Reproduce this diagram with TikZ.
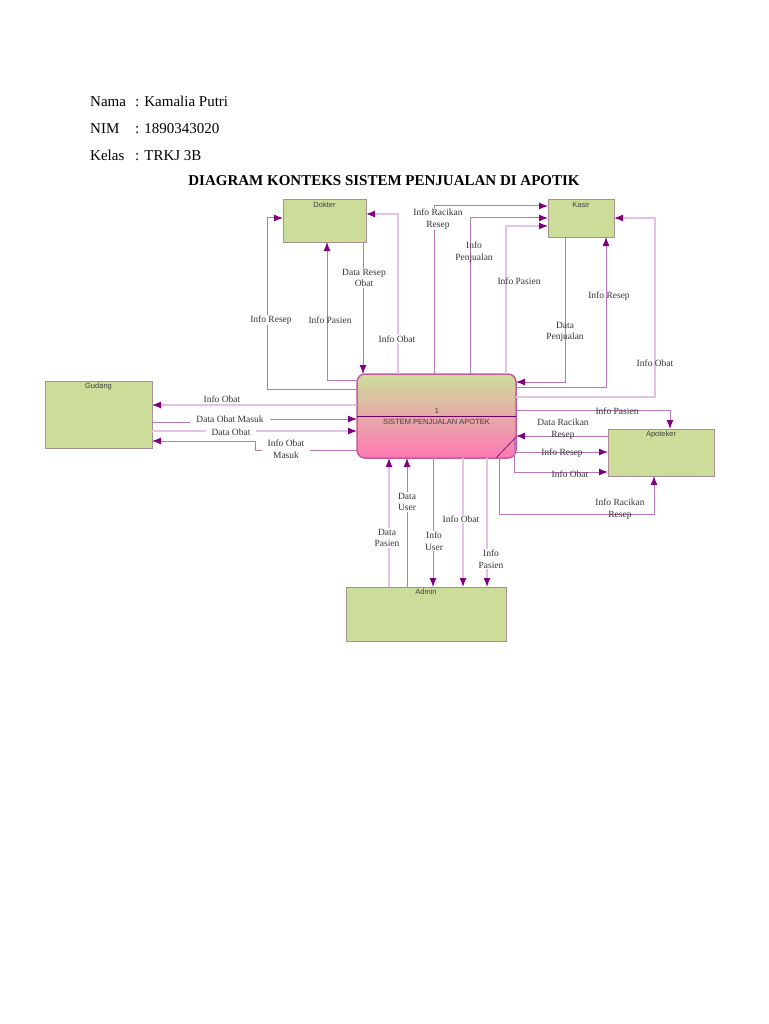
\documentclass[tikz,border=0pt]{standalone}
\usepackage{fontspec}
\setmainfont{Liberation Serif}
\newfontfamily\boxfont{Liberation Sans}
\usetikzlibrary{arrows.meta}
\definecolor{flowtip}{HTML}{800080}
\definecolor{flowdark}{HTML}{B878B8}
\definecolor{flowlight}{HTML}{E4C2E4}
\definecolor{boxgreen}{HTML}{CCDD99}
\definecolor{boxedge}{HTML}{A89090}
\definecolor{boxpink}{HTML}{FF78B4}
\definecolor{boxrim}{HTML}{C85AA0}
\tikzset{
  entity/.style={draw=boxedge, line width=1pt, fill=boxgreen, inner sep=0pt, outer sep=0pt},
  boxtext/.style={font=\boxfont\fontsize{7.5}{9}\selectfont, text=black!75, anchor=north, inner sep=2pt},
  flowd/.style={draw=flowdark, line width=1pt},
  flowl/.style={draw=flowlight, line width=1.2pt},
  tip/.style={-{Latex[length=9pt,width=7pt,color=flowtip]}},
  lbl/.style={font=\fontsize{9.5}{11.5}\selectfont, text=black!80, align=center, inner sep=1pt},
  lblw/.style={lbl, fill=white},
  lblg/.style={lblw, inner xsep=6pt},
  head/.style={font=\fontsize{15}{18}\selectfont, anchor=base west, inner sep=0pt}
}
\begin{document}
\begin{tikzpicture}[x=1pt, y=-1pt]
    \useasboundingbox (0,0) rectangle (768,1024);

    % Header
    \foreach \i/\y/\a/\b in {1/107/Nama/Kamalia Putri, 2/134/NIM/1890343020, 3/161/Kelas/TRKJ 3B} {
      \node[head] (key\i) at (90,\y) {\a};
      \node[head] (val\i) at (135,\y) {: \b};
    }
    \node[font=\bfseries\fontsize{15}{18}\selectfont, inner sep=0pt] (title) at (384,181) {DIAGRAM KONTEKS SISTEM PENJUALAN DI APOTIK};

    % Boxes
    \node[entity, minimum width=83, minimum height=42] (dokter) at (324.5,221) {};
    \node[entity, minimum width=66, minimum height=37] (kasir) at (581,218.5) {};
    \node[entity, minimum width=107, minimum height=67] (gudang) at (98.5,414.5) {};
    \node[entity, minimum width=106, minimum height=47] (apoteker) at (661,452.5) {};
    \node[entity, minimum width=160, minimum height=54] (admin) at (426,614) {};
    \node[draw=boxrim, line width=1.5pt, rounded corners=8pt, top color=boxgreen, bottom color=boxpink,
          minimum width=159, minimum height=84, inner sep=0pt, outer sep=0pt] (proses) at (436.5,416) {};
    \draw[draw=flowtip!80!black, line width=0.6pt] (proses.west) -- (proses.east);
    \draw[draw=flowtip!80!black, line width=0.6pt] (proses.south -| 496,0) -- (proses.east |- 0,437);
    \foreach \n/\t in {dokter/Dokter, kasir/Kasir, gudang/Gudang, apoteker/Apoteker, admin/Admin} {
      \node[boxtext] (\n text) at (\n.north) {\t};
    }
    \node[boxtext] (prosesnum) at (437,406) {1};
    \node[boxtext] (prosesname) at (436.5,417) {SISTEM PENJUALAN APOTEK};

    % Flows to Dokter
    \draw[flowd, tip] (proses.west |- 0,389) -| (267,218) -- (dokter.west |- 0,218);
    \draw[flowd, tip] (proses.west |- 0,380) -| (dokter.south -| 327,0);
    \draw[flowd, tip] (dokter.south -| 363,0) -- (proses.north -| 363,0);
    \draw[flowl, tip] (proses.north -| 398,0) |- (dokter.east |- 0,214);

    % Flows to Kasir
    \draw[flowd, tip] (proses.north -| 434,0) |- (kasir.west |- 0,206);
    \draw[flowd, tip] (proses.north -| 470,0) |- (kasir.west |- 0,218);
    \draw[flowl, tip] (proses.north -| 506,0) |- (kasir.west |- 0,226);
    \draw[flowd, tip] (kasir.south -| 565,0) |- (proses.east |- 0,382);
    \draw[flowd, tip] (proses.east |- 0,387) -| (kasir.south -| 606,0);
    \draw[flowl, tip] (proses.east |- 0,397) -| (655,218) -- (kasir.east |- 0,218);

    % Flows to Apoteker
    \draw[flowd, tip] (proses.east |- 0,410) -| (apoteker.north -| 670,0);
    \draw[flowd, tip] (apoteker.west |- 0,436) -- (proses.east |- 0,436);
    \draw[flowd, tip] (proses.east |- 0,452) -- (apoteker.west |- 0,452);
    \draw[flowd, tip] (514,440) |- (apoteker.west |- 0,472);
    \draw[flowd, tip] (proses.south -| 499,0) |- (654,514) -- (apoteker.south -| 654,0);

    % Flows to Gudang
    \draw[flowl, tip] (proses.west |- 0,405) -- (gudang.east |- 0,405);
    \draw[flowd, tip] (gudang.east |- 0,422) -- (230,422) -- (230,419) -- (proses.west |- 0,419);
    \draw[flowl, tip] (gudang.east |- 0,431) -- (proses.west |- 0,431);
    \draw[flowd, tip] (proses.west |- 0,450) -| (255,441) -- (gudang.east |- 0,441);

    % Flows to Admin
    \draw[flowl, tip] (admin.north -| 389,0) -- (proses.south -| 389,0);
    \draw[flowd, tip] (admin.north -| 407,0) -- (proses.south -| 407,0);
    \draw[flowd, tip] (proses.south -| 433,0) -- (admin.north -| 433,0);
    \draw[flowl, tip] (proses.south -| 463,0) -- (admin.north -| 463,0);
    \draw[flowl, tip] (proses.south -| 487,0) -- (admin.north -| 487,0);

    % Labels that break the line
    \foreach \i/\x/\y/\t in {1/438/219/{Info Racikan\\Resep}, 2/364/278/{Data Resep\\Obat}, 3/271/320/Info Resep,
      4/397/339/Info Obat, 9/407/502/{Data\\User}, 10/387/538/{Data\\Pasien}, 11/434/541/{Info\\User},
      12/461/519/Info Obat, 13/491/559/{Info\\Pasien}} {
      \node[lblw] (gap\i) at (\x,\y) {\t};
    }
    \foreach \i/\x/\y/\t in {5/222/399/Info Obat, 6/230/419.5/Data Obat Masuk, 7/231/432/Data Obat, 8/286/449/{Info Obat\\Masuk}} {
      \node[lblg] (gap\i) at (\x,\y) {\t};
    }

    % Labels lying on the line
    \foreach \i/\x/\y/\t in {1/474/252/{Info\\Penjualan}, 2/519/281/Info Pasien, 3/330/320/Info Pasien,
      4/609/296/Info Resep, 5/565/332/{Data\\Penjualan}, 6/655/363/Info Obat, 7/617/411/Info Pasien,
      8/563/429/{Data Racikan\\Resep}, 9/562/453/Info Resep, 10/570/474/Info Obat, 11/620/509/{Info Racikan\\Resep}} {
      \node[lbl] (over\i) at (\x,\y) {\t};
    }
\end{tikzpicture}
\end{document}
